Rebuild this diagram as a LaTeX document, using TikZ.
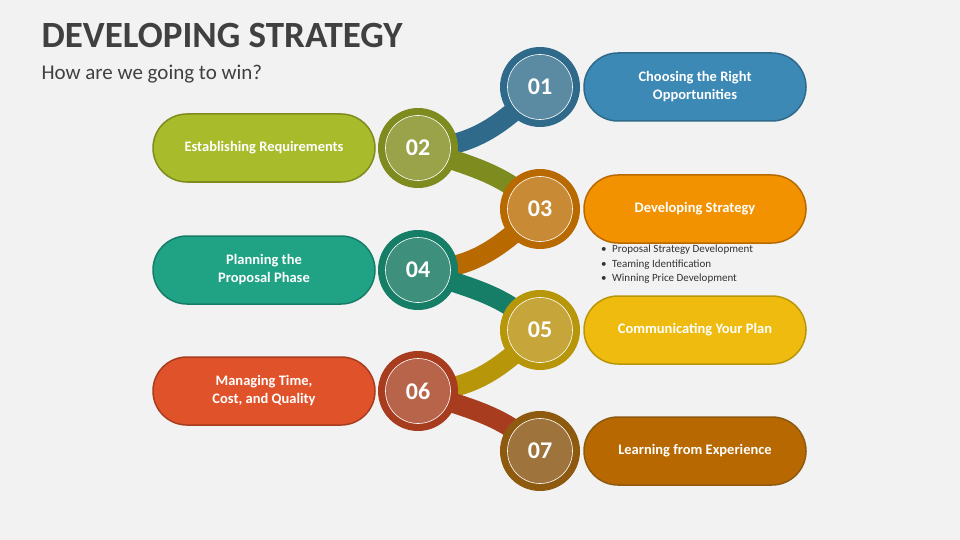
\documentclass[tikz,border=0pt]{standalone}
\usepackage{fontspec}
\setmainfont{Carlito}
\begin{document}
\begin{tikzpicture}[x=1pt,y=-1pt,
  ring/.style={circle,minimum size=80pt,inner sep=0pt},
  inner/.style={circle,minimum size=65pt,draw=white!75,line width=0.6pt,inner sep=0pt,text=white,font=\bfseries\fontsize{24}{24}\selectfont},
  pill/.style={rounded corners=34pt,minimum width=222pt,minimum height=68pt,line width=1.5pt,text=white,align=center,font=\bfseries\fontsize{14.5}{18}\selectfont},
  band/.style={line width=20pt}]
\fill[white!95!black] (0,0) rectangle (960,540);
\node[anchor=west,font=\bfseries\fontsize{37}{37}\selectfont,text=black!75] (title) at (38,35) {DEVELOPING STRATEGY};
\node[anchor=west,font=\fontsize{21}{21}\selectfont,text=black!75] (sub) at (38,74) {How are we going to win?};
\definecolor{r1}{HTML}{2F6A8A}\definecolor{i1}{HTML}{5B8AA3}\definecolor{p1}{HTML}{3D89B5}
\definecolor{r2}{HTML}{7E8B1E}\definecolor{i2}{HTML}{9BA34A}\definecolor{p2}{HTML}{A8BB2A}
\definecolor{r3}{HTML}{B86A00}\definecolor{i3}{HTML}{C98A35}\definecolor{p3}{HTML}{F39200}
\definecolor{r4}{HTML}{167D67}\definecolor{i4}{HTML}{3E907D}\definecolor{p4}{HTML}{1FA384}
\definecolor{r5}{HTML}{B8960A}\definecolor{i5}{HTML}{C6A63A}\definecolor{p5}{HTML}{EEBB0E}
\definecolor{r6}{HTML}{A83C1E}\definecolor{i6}{HTML}{B8644B}\definecolor{p6}{HTML}{E0522A}
\definecolor{r7}{HTML}{8E5A10}\definecolor{i7}{HTML}{9E743C}\definecolor{p7}{HTML}{B86800}
\coordinate (c1) at (540,87);\coordinate (c2) at (418,148);\coordinate (c3) at (540,209);
\coordinate (c4) at (418,270);\coordinate (c5) at (540,330);\coordinate (c6) at (418,391);
\coordinate (c7) at (540,451);
\draw[band,r1] (c2) to[out=0,in=225] (c1);
\draw[band,r2] (c2) to[out=-20,in=135] (c3);
\draw[band,r3] (c4) to[out=0,in=225] (c3);
\draw[band,r4] (c4) to[out=-20,in=135] (c5);
\draw[band,r5] (c6) to[out=0,in=225] (c5);
\draw[band,r6] (c6) to[out=-20,in=135] (c7);
\foreach \i/\t in {1/01,2/02,3/03,4/04,5/05,6/06,7/07}{
  \node[ring,fill=r\i] (o\i) at (c\i) {};
  \node[inner,fill=i\i] (n\i) at (c\i) {\t};
}
\node[pill,fill=p1,draw=r1] (b1) at (695,87) {Choosing the Right\\Opportunities};
\node[pill,fill=p2,draw=r2] (b2) at (264,148) {Establishing Requirements};
\node[pill,fill=p3,draw=r3] (b3) at (695,209) {Developing Strategy};
\node[pill,fill=p4,draw=r4] (b4) at (264,270) {Planning the\\Proposal Phase};
\node[pill,fill=p5,draw=r5] (b5) at (695,330) {Communicating Your Plan};
\node[pill,fill=p6,draw=r6] (b6) at (264,391) {Managing Time,\\Cost, and Quality};
\node[pill,fill=p7,draw=r7] (b7) at (695,451) {Learning from Experience};
\node[anchor=north west,align=left,font=\fontsize{11}{14.5}\selectfont,text=black!80,inner sep=0pt] (bl) at (601,245)
 {\textbullet\enspace Proposal Strategy Development\\\textbullet\enspace Teaming Identification\\\textbullet\enspace Winning Price Development};
\end{tikzpicture}
\end{document}
